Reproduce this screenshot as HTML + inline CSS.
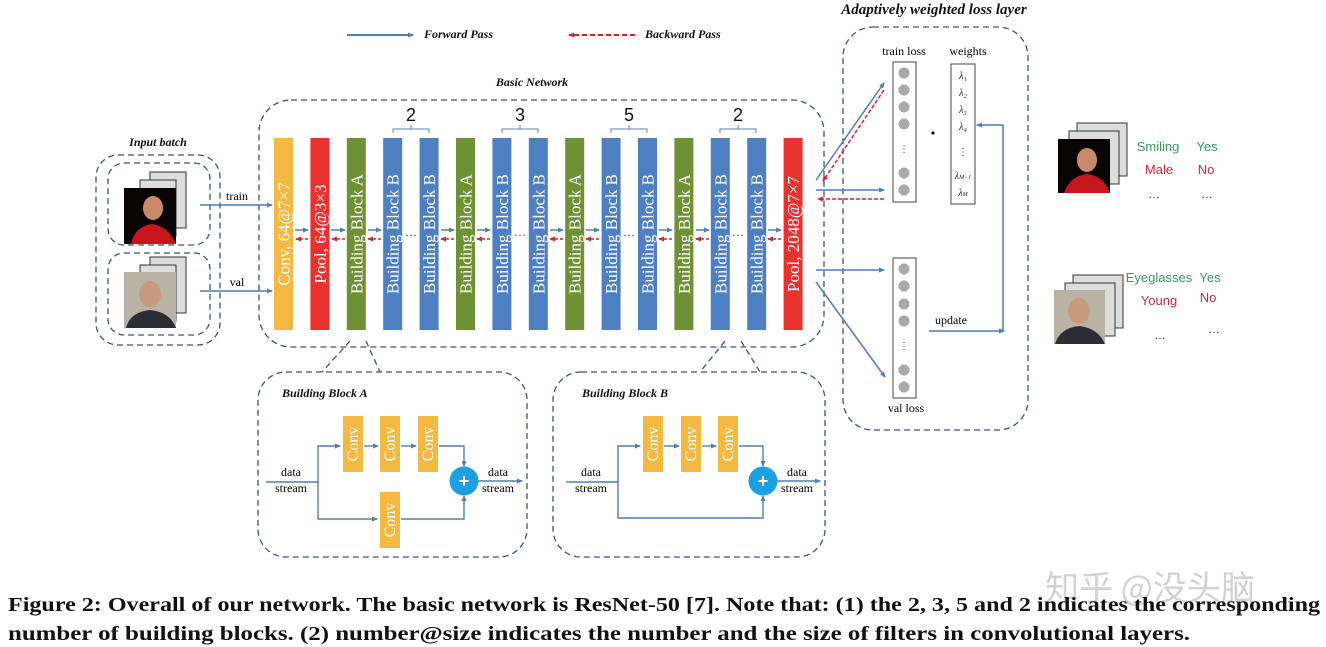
<!DOCTYPE html>
<html><head><meta charset="utf-8"><style>
html,body{margin:0;padding:0;background:#fff;width:1326px;height:647px;overflow:hidden}
svg{display:block}
.ser{font-family:"Liberation Serif",serif}
.san{font-family:"Liberation Sans",sans-serif}
.ti{font-family:"Liberation Serif",serif;font-style:italic;font-weight:bold;font-size:12px;fill:#111}
.col{font-family:"Liberation Serif",serif;font-size:17px;fill:#fff}
.cv{font-family:"Liberation Serif",serif;font-size:16px;fill:#fff}
</style></head><body>
<svg width="1326" height="647" viewBox="0 0 1326 647" xmlns="http://www.w3.org/2000/svg">
<defs>
<marker id="ab" markerWidth="6" markerHeight="6" refX="5" refY="3" orient="auto" markerUnits="userSpaceOnUse"><path d="M0,0.5 L6,3 L0,5.5z" fill="#4f7fb5"/></marker>
<marker id="ar" markerWidth="6" markerHeight="6" refX="5" refY="3" orient="auto" markerUnits="userSpaceOnUse"><path d="M0,0.5 L6,3 L0,5.5z" fill="#d9232d"/></marker>
</defs>
<g fill="none" stroke="#3d5575" stroke-width="1.3" stroke-dasharray="6,4">
<rect x="259" y="100" width="565" height="247" rx="32"/>
<rect x="96" y="155" width="124" height="190" rx="22"/>
<rect x="108" y="163" width="102" height="82" rx="16"/>
<rect x="108" y="253" width="102" height="82" rx="16"/>
<rect x="843" y="27" width="185" height="403" rx="30"/>
<rect x="258" y="372" width="269" height="185" rx="28"/>
<rect x="553" y="372" width="272" height="185" rx="28"/>
<line x1="350" y1="341" x2="322" y2="372"/>
<line x1="366" y1="341" x2="380" y2="372"/>
<line x1="725" y1="341" x2="700" y2="372"/>
<line x1="741" y1="341" x2="760" y2="372"/>
</g>
<!-- legend -->
<line x1="347" y1="35" x2="413" y2="35" stroke="#4f7fb5" stroke-width="2" marker-end="url(#ab)"/>
<text x="424" y="38" class="ti">Forward Pass</text>
<line x1="635" y1="35" x2="569" y2="35" stroke="#d9232d" stroke-width="2" stroke-dasharray="5,3" marker-end="url(#ar)"/>
<text x="645" y="38" class="ti">Backward Pass</text>
<text x="532" y="86" class="ti" text-anchor="middle">Basic Network</text>
<text x="158" y="146" class="ti" text-anchor="middle">Input batch</text>
<text x="934" y="14" class="ti" text-anchor="middle" style="font-size:15px">Adaptively weighted loss layer</text>
<!-- input images -->
<g>
<rect x="150" y="172" width="36" height="56" fill="#ddd" stroke="#333"/>
<rect x="140" y="180" width="36" height="56" fill="#ddd" stroke="#333"/>
<rect x="124" y="188" width="52" height="56" fill="#0a0505"/>
<ellipse cx="153" cy="208" rx="10" ry="12" fill="#c98a6a"/>
<path d="M131,244 Q135,226 152,224 Q168,226 176,244z" fill="#c4161c"/>
<rect x="150" y="257" width="36" height="56" fill="#ddd" stroke="#333"/>
<rect x="140" y="265" width="36" height="56" fill="#ddd" stroke="#333"/>
<rect x="124" y="272" width="52" height="56" fill="#b9b3a6"/>
<ellipse cx="150" cy="294" rx="11" ry="13" fill="#c79a7e"/>
<path d="M126,328 Q130,312 150,310 Q170,312 176,328z" fill="#2d2d35"/>
</g>
<line x1="200" y1="205" x2="272" y2="205" stroke="#4f7fb5" stroke-width="1.5" marker-end="url(#ab)"/>
<text x="237" y="200" class="ser" font-size="12" text-anchor="middle">train</text>
<line x1="200" y1="291" x2="272" y2="291" stroke="#4f7fb5" stroke-width="1.5" marker-end="url(#ab)"/>
<text x="237" y="286" class="ser" font-size="12" text-anchor="middle">val</text>
<!-- columns -->
<g>
<rect x="274" y="138" width="19" height="192" fill="#f4b942"/>
<rect x="310.4" y="138" width="19" height="192" fill="#e8322f"/>
<rect x="346.8" y="138" width="19" height="192" fill="#6f9135"/>
<rect x="383.2" y="138" width="19" height="192" fill="#4e7fc0"/>
<rect x="419.6" y="138" width="19" height="192" fill="#4e7fc0"/>
<rect x="456" y="138" width="19" height="192" fill="#6f9135"/>
<rect x="492.4" y="138" width="19" height="192" fill="#4e7fc0"/>
<rect x="528.8" y="138" width="19" height="192" fill="#4e7fc0"/>
<rect x="565.2" y="138" width="19" height="192" fill="#6f9135"/>
<rect x="601.6" y="138" width="19" height="192" fill="#4e7fc0"/>
<rect x="638" y="138" width="19" height="192" fill="#4e7fc0"/>
<rect x="674.4" y="138" width="19" height="192" fill="#6f9135"/>
<rect x="710.8" y="138" width="19" height="192" fill="#4e7fc0"/>
<rect x="747.2" y="138" width="19" height="192" fill="#4e7fc0"/>
<rect x="783.6" y="138" width="19" height="192" fill="#e8322f"/>
</g>
<g class="col" text-anchor="middle">
<text transform="translate(289.5,234) rotate(-90)">Conv, 64@7×7</text>
<text transform="translate(325.9,234) rotate(-90)">Pool, 64@3×3</text>
<text transform="translate(362.3,234) rotate(-90)">Building Block A</text>
<text transform="translate(398.7,234) rotate(-90)">Building Block B</text>
<text transform="translate(435.1,234) rotate(-90)">Building Block B</text>
<text transform="translate(471.5,234) rotate(-90)">Building Block A</text>
<text transform="translate(507.9,234) rotate(-90)">Building Block B</text>
<text transform="translate(544.3,234) rotate(-90)">Building Block B</text>
<text transform="translate(580.7,234) rotate(-90)">Building Block A</text>
<text transform="translate(617.1,234) rotate(-90)">Building Block B</text>
<text transform="translate(653.5,234) rotate(-90)">Building Block B</text>
<text transform="translate(689.9,234) rotate(-90)">Building Block A</text>
<text transform="translate(726.3,234) rotate(-90)">Building Block B</text>
<text transform="translate(762.7,234) rotate(-90)">Building Block B</text>
<text transform="translate(799.1,234) rotate(-90)">Pool, 2048@7×7</text>
</g>
<!-- inter-column arrows -->
<g stroke="#4f7fb5" stroke-width="1.5" marker-end="url(#ab)">
<line x1="295" y1="230" x2="308" y2="230"/>
<line x1="331" y1="230" x2="345" y2="230"/>
<line x1="368" y1="230" x2="381" y2="230"/>
<line x1="441" y1="230" x2="454" y2="230"/>
<line x1="477" y1="230" x2="490" y2="230"/>
<line x1="550" y1="230" x2="563" y2="230"/>
<line x1="586" y1="230" x2="599" y2="230"/>
<line x1="659" y1="230" x2="672" y2="230"/>
<line x1="696" y1="230" x2="709" y2="230"/>
<line x1="768" y1="230" x2="781" y2="230"/>
</g>
<g stroke="#d9232d" stroke-width="1.5" stroke-dasharray="3,2" marker-end="url(#ar)">
<line x1="308" y1="239" x2="296" y2="239"/>
<line x1="345" y1="239" x2="332" y2="239"/>
<line x1="381" y1="239" x2="368" y2="239"/>
<line x1="454" y1="239" x2="441" y2="239"/>
<line x1="490" y1="239" x2="477" y2="239"/>
<line x1="563" y1="239" x2="550" y2="239"/>
<line x1="599" y1="239" x2="586" y2="239"/>
<line x1="672" y1="239" x2="659" y2="239"/>
<line x1="709" y1="239" x2="696" y2="239"/>
<line x1="781" y1="239" x2="768" y2="239"/>
</g>
<g class="ser" font-size="12" text-anchor="middle" fill="#333">
<text x="411" y="236">…</text><text x="520" y="236">…</text><text x="629" y="236">…</text><text x="738" y="236">…</text>
</g>
<!-- brackets -->
<g fill="none" stroke="#7a98c0" stroke-width="1.2">
<path d="M393,133 V129 H429 V133 M411,129 V125"/>
<path d="M502,133 V129 H538 V133 M520,129 V125"/>
<path d="M611,133 V129 H647 V133 M629,129 V125"/>
<path d="M720,133 V129 H756 V133 M738,129 V125"/>
</g>
<g class="san" font-size="18" text-anchor="middle" fill="#111">
<text x="411" y="121">2</text><text x="520" y="121">3</text><text x="629" y="121">5</text><text x="738" y="121">2</text>
</g>
<!-- to loss layer -->
<line x1="816" y1="180" x2="884" y2="83" stroke="#4f7fb5" stroke-width="1.5" marker-end="url(#ab)"/>
<line x1="884" y1="90" x2="823" y2="181" stroke="#d9232d" stroke-width="1.5" stroke-dasharray="4,2" marker-end="url(#ar)"/>
<line x1="816" y1="190" x2="884" y2="190" stroke="#4f7fb5" stroke-width="1.5" marker-end="url(#ab)"/>
<line x1="884" y1="199" x2="818" y2="199" stroke="#d9232d" stroke-width="1.5" stroke-dasharray="4,2" marker-end="url(#ar)"/>
<line x1="816" y1="270" x2="884" y2="270" stroke="#4f7fb5" stroke-width="1.5" marker-end="url(#ab)"/>
<line x1="816" y1="282" x2="885" y2="377" stroke="#4f7fb5" stroke-width="1.5" marker-end="url(#ab)"/>
<!-- loss boxes -->
<rect x="893" y="62" width="23" height="140" fill="#fff" stroke="#444" stroke-width="1"/>
<rect x="951" y="64" width="24" height="140" fill="#fff" stroke="#444" stroke-width="1"/>
<rect x="893" y="258" width="23" height="140" fill="#fff" stroke="#444" stroke-width="1"/>
<g fill="#a9a9a9">
<circle cx="904" cy="73" r="5.5"/><circle cx="904" cy="90" r="5.5"/><circle cx="904" cy="107" r="5.5"/><circle cx="904" cy="124" r="5.5"/><circle cx="904" cy="173" r="5.5"/><circle cx="904" cy="190" r="5.5"/>
<circle cx="904" cy="269" r="5.5"/><circle cx="904" cy="286" r="5.5"/><circle cx="904" cy="304" r="5.5"/><circle cx="904" cy="321" r="5.5"/><circle cx="904" cy="370" r="5.5"/><circle cx="904" cy="387" r="5.5"/>
</g>
<g class="ser" font-size="10" text-anchor="middle" fill="#333">
<text x="904" y="152">⋮</text><text x="904" y="349">⋮</text><text x="963" y="155">⋮</text>
</g>
<circle cx="933" cy="133" r="1.6" fill="#111"/>
<g class="ser" font-style="italic" font-size="10" text-anchor="middle" fill="#222">
<text x="963" y="79">λ₁</text><text x="963" y="96">λ₂</text><text x="963" y="113">λ₃</text><text x="963" y="130">λ₄</text><text x="963" y="179">λ<tspan font-size="6">M−1</tspan></text><text x="963" y="196">λ<tspan font-size="6">M</tspan></text>
</g>
<text x="904" y="55" class="ser" font-size="12" text-anchor="middle">train loss</text>
<text x="968" y="55" class="ser" font-size="12" text-anchor="middle">weights</text>
<text x="906" y="412" class="ser" font-size="12" text-anchor="middle">val loss</text>
<text x="951" y="324" class="ser" font-size="12" text-anchor="middle">update</text>
<line x1="929" y1="331" x2="1004" y2="331" stroke="#4f7fb5" stroke-width="1.5" marker-end="url(#ab)"/>
<polyline points="1003,331 1003,125 977,125" fill="none" stroke="#4f7fb5" stroke-width="1.5" marker-end="url(#ab)"/>
<!-- right images -->
<rect x="1077" y="123" width="50" height="53" fill="#ddd" stroke="#333"/>
<rect x="1069" y="131" width="50" height="53" fill="#ddd" stroke="#333"/>
<rect x="1058" y="139" width="52" height="54" fill="#0a0505"/>
<ellipse cx="1087" cy="160" rx="10" ry="12" fill="#c98a6a"/>
<path d="M1064,193 Q1070,176 1087,174 Q1104,176 1110,193z" fill="#c4161c"/>
<rect x="1073" y="275" width="50" height="53" fill="#ddd" stroke="#333"/>
<rect x="1065" y="283" width="50" height="53" fill="#ddd" stroke="#333"/>
<rect x="1054" y="290" width="51" height="54" fill="#b9b3a6"/>
<ellipse cx="1079" cy="311" rx="11" ry="13" fill="#c79a7e"/>
<path d="M1055,344 Q1060,328 1079,326 Q1098,328 1105,344z" fill="#2d2d35"/>
<g class="san" font-size="13" text-anchor="middle">
<text x="1158" y="151" fill="#3a9a5a">Smiling</text><text x="1207" y="151" fill="#3a9a5a">Yes</text>
<text x="1159" y="174" fill="#cc2a36">Male</text><text x="1206" y="174" fill="#cc2a36">No</text>
<text x="1159" y="282" fill="#3a9a5a">Eyeglasses</text><text x="1210" y="282" fill="#3a9a5a">Yes</text>
<text x="1159" y="305" fill="#cc2a36">Young</text><text x="1208" y="302" fill="#cc2a36">No</text>
</g>
<g class="ser" font-size="11" text-anchor="middle" fill="#333">
<text x="1154" y="198">…</text><text x="1207" y="198">…</text><text x="1160" y="339">…</text><text x="1214" y="333">…</text>
</g>
<!-- Building block A -->
<text x="282" y="397" class="ti">Building Block A</text>
<g fill="#f4b942"><rect x="343" y="416" width="20" height="56"/><rect x="380" y="416" width="20" height="56"/><rect x="418" y="416" width="20" height="56"/><rect x="380" y="492" width="20" height="56"/></g>
<g class="cv" text-anchor="middle">
<text transform="translate(358,444) rotate(-90)">Conv</text><text transform="translate(395,444) rotate(-90)">Conv</text><text transform="translate(433,444) rotate(-90)">Conv</text><text transform="translate(395,520) rotate(-90)">Conv</text>
</g>
<g fill="none" stroke="#4f7fb5" stroke-width="1.4">
<line x1="266" y1="482" x2="318" y2="482"/>
<polyline points="318,482 318,446 340,446" marker-end="url(#ab)"/>
<line x1="364" y1="446" x2="378" y2="446" marker-end="url(#ab)"/>
<line x1="401" y1="446" x2="416" y2="446" marker-end="url(#ab)"/>
<polyline points="439,446 464,446 464,466" marker-end="url(#ab)"/>
<polyline points="318,482 318,519 377,519" marker-end="url(#ab)"/>
<polyline points="401,519 464,519 464,496" marker-end="url(#ab)"/>
<line x1="478" y1="481" x2="522" y2="481" marker-end="url(#ab)"/>
</g>
<circle cx="464" cy="481" r="14.5" fill="#1ba1e2"/>
<text x="464" y="487" class="san" font-size="18" font-weight="bold" fill="#fff" text-anchor="middle">+</text>
<g class="ser" font-size="12" text-anchor="middle">
<text x="291" y="476">data</text><text x="291" y="492">stream</text>
<text x="498" y="476">data</text><text x="498" y="492">stream</text>
</g>
<!-- Building block B -->
<text x="582" y="397" class="ti">Building Block B</text>
<g fill="#f4b942"><rect x="643" y="416" width="20" height="56"/><rect x="681" y="416" width="20" height="56"/><rect x="718" y="416" width="20" height="56"/></g>
<g class="cv" text-anchor="middle">
<text transform="translate(658,444) rotate(-90)">Conv</text><text transform="translate(696,444) rotate(-90)">Conv</text><text transform="translate(733,444) rotate(-90)">Conv</text>
</g>
<g fill="none" stroke="#4f7fb5" stroke-width="1.4">
<line x1="566" y1="482" x2="618" y2="482"/>
<polyline points="618,482 618,446 640,446" marker-end="url(#ab)"/>
<line x1="664" y1="446" x2="679" y2="446" marker-end="url(#ab)"/>
<line x1="702" y1="446" x2="716" y2="446" marker-end="url(#ab)"/>
<polyline points="739,446 763,446 763,466" marker-end="url(#ab)"/>
<polyline points="618,482 618,518 763,518 763,496" marker-end="url(#ab)"/>
<line x1="777" y1="481" x2="820" y2="481" marker-end="url(#ab)"/>
</g>
<circle cx="763" cy="481" r="14.5" fill="#1ba1e2"/>
<text x="763" y="487" class="san" font-size="18" font-weight="bold" fill="#fff" text-anchor="middle">+</text>
<g class="ser" font-size="12" text-anchor="middle">
<text x="591" y="476">data</text><text x="591" y="492">stream</text>
<text x="797" y="476">data</text><text x="797" y="492">stream</text>
</g>
<!-- watermark -->
<text x="1150" y="600" font-family="Noto Sans CJK SC, sans-serif" font-size="34" fill="#c8c8c8" text-anchor="middle" opacity="0.8">知乎 @没头脑</text>
<!-- caption -->
<g class="ser" font-weight="bold" font-size="20" fill="#111">
<text x="8" y="611" textLength="1312" lengthAdjust="spacingAndGlyphs">Figure 2: Overall of our network. The basic network is ResNet-50 [7]. Note that: (1) the 2, 3, 5 and 2 indicates the corresponding</text>
<text x="8" y="640" textLength="1182" lengthAdjust="spacingAndGlyphs">number of building blocks. (2) number@size indicates the number and the size of filters in convolutional layers.</text>
</g>
</svg>
</body></html>
